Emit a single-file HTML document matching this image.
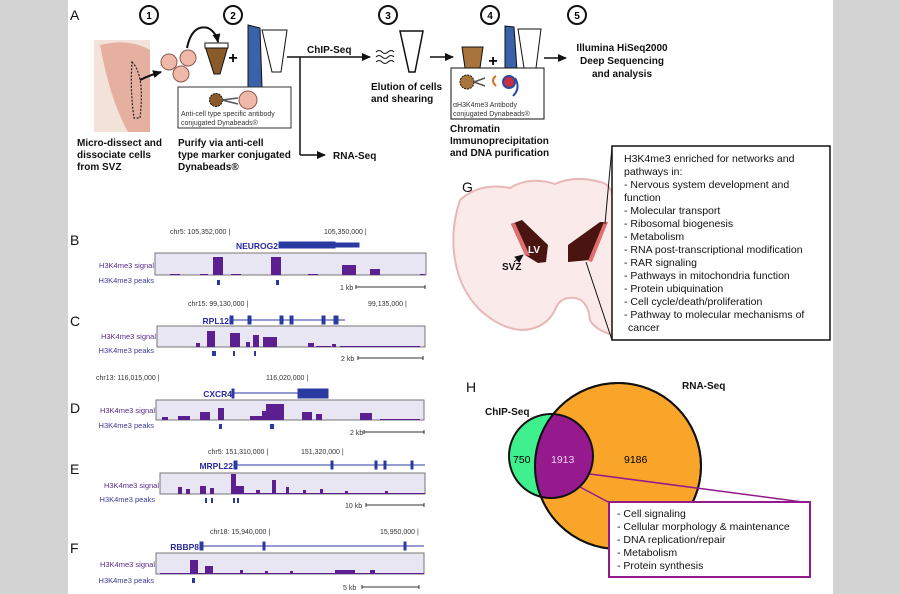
<!DOCTYPE html>
<html><head><meta charset="utf-8"><style>
html,body{margin:0;padding:0;background:#d3d3d3;}
svg{display:block;font-family:"Liberation Sans",sans-serif;}
.b{font-weight:bold;font-size:10px;fill:#111}
.s{font-size:7px;fill:#333}
.sig{font-size:7.5px;fill:#5a2a8a}
.pk{font-size:7.5px;fill:#3a3a9a}
.g{font-size:8.5px;font-weight:bold;fill:#2a2aa0}
.lab{font-size:14px;fill:#111}
.t{font-size:10.5px;fill:#111}
</style></head><body>
<svg width="900" height="594" viewBox="0 0 900 594" xmlns="http://www.w3.org/2000/svg">
<rect x="0" y="0" width="900" height="594" fill="#d3d3d3"/>
<rect x="68" y="0" width="765" height="594" fill="#fff"/>
<defs><marker id="ar" markerUnits="userSpaceOnUse" markerWidth="9" markerHeight="8" refX="8" refY="4" orient="auto"><path d="M0,0 L9,4 L0,8 z" fill="#111"/></marker></defs>

<!-- Panel A -->
<text x="70" y="20" class="lab">A</text>
<g font-weight="bold" font-size="10" text-anchor="middle">
<circle cx="149" cy="15" r="9" fill="none" stroke="#111" stroke-width="2"/><text x="149" y="19">1</text>
<circle cx="233" cy="15" r="9" fill="none" stroke="#111" stroke-width="2"/><text x="233" y="19">2</text>
<circle cx="388" cy="15" r="9" fill="none" stroke="#111" stroke-width="2"/><text x="388" y="19">3</text>
<circle cx="490" cy="15" r="9" fill="none" stroke="#111" stroke-width="2"/><text x="490" y="19">4</text>
<circle cx="577" cy="15" r="9" fill="none" stroke="#111" stroke-width="2"/><text x="577" y="19">5</text>
</g>
<!-- tissue -->
<rect x="94" y="40" width="56" height="92" fill="#f3e2da"/>
<path d="M100,45 Q130,38 150,50 L150,132 L128,132 Q110,100 100,45 z" fill="#e6b0a0"/>
<path d="M132,62 Q145,75 140,118 L134,118 Q130,90 132,62 z" fill="none" stroke="#222" stroke-dasharray="2,1.5" stroke-width="1.2"/>
<path d="M140,80 Q150,75 161,72" fill="none" stroke="#111" stroke-width="2" marker-end="url(#ar)"/>
<circle cx="169" cy="62" r="8" fill="#f0b8a8" stroke="#8a5a50"/>
<circle cx="188" cy="58" r="8" fill="#f0b8a8" stroke="#8a5a50"/>
<circle cx="181" cy="74" r="8" fill="#f0b8a8" stroke="#8a5a50"/>
<path d="M187,48 Q192,24 208,28 Q216,32 218,42" fill="none" stroke="#111" stroke-width="2" marker-end="url(#ar)"/>
<path d="M205,46 L228,46 L220,74 L214,74 z" fill="#8b5a2b" stroke="#111"/>
<rect x="205" y="43" width="23" height="5" fill="#fff" stroke="#111"/>
<text x="233" y="63" font-size="16" font-weight="bold" text-anchor="middle">+</text>
<path d="M248,25 L260,28 L262,87 L248,87 z" fill="#3a62a8" stroke="#111"/>
<path d="M262,30 L287,30 L281,72 L272,72 z" fill="#fff" stroke="#111"/>
<rect x="178" y="87" width="113" height="41" fill="#fff" stroke="#333"/>
<circle cx="216" cy="100" r="6.5" fill="#8b5a2b" stroke="#111" stroke-dasharray="2,1"/>
<path d="M222,100 L238,98 M222,100 L238,104" stroke="#555" stroke-width="1.5"/>
<circle cx="248" cy="100" r="9" fill="#f0b8a8" stroke="#8a5a50"/>
<text x="181" y="116" class="s">Anti-cell type specific antibody</text>
<text x="181" y="125" class="s">conjugated Dynabeads®</text>
<text x="77" y="146" class="b">Micro-dissect and</text>
<text x="77" y="158" class="b">dissociate cells</text>
<text x="77" y="170" class="b">from SVZ</text>
<text x="178" y="146" class="b">Purify via anti-cell</text>
<text x="178" y="158" class="b">type marker conjugated</text>
<text x="178" y="170" class="b">Dynabeads®</text>
<line x1="287" y1="57" x2="370" y2="57" stroke="#111" stroke-width="1.5" marker-end="url(#ar)"/>
<text x="307" y="53" class="b" font-size="9.5">ChIP-Seq</text>
<line x1="300" y1="57" x2="300" y2="155" stroke="#111" stroke-width="1.5"/>
<line x1="300" y1="155" x2="325" y2="155" stroke="#111" stroke-width="1.5" marker-end="url(#ar)"/>
<text x="333" y="159" class="b" font-size="9.5">RNA-Seq</text>
<path d="M376,52 q3,-3 6,0 t6,0 t6,0 M376,57 q3,-3 6,0 t6,0 t6,0 M376,62 q3,-3 6,0 t6,0 t6,0" fill="none" stroke="#111"/>
<path d="M400,31 L423,31 L415,72 L409,72 z" fill="#fff" stroke="#111" stroke-width="1.5"/>
<text x="371" y="90" class="b">Elution of cells</text>
<text x="371" y="102" class="b">and shearing</text>
<line x1="430" y1="57" x2="453" y2="57" stroke="#111" stroke-width="1.5" marker-end="url(#ar)"/>
<path d="M462,47 L483,47 L480,68 L465,68 z" fill="#a8743c" stroke="#111"/>
<text x="493" y="66" font-size="16" font-weight="bold" text-anchor="middle">+</text>
<path d="M505,26 L514,27 L517,70 L505,70 z" fill="#3a62a8" stroke="#111"/>
<path d="M518,29 L541,29 L536,68 L524,68 z" fill="#fff" stroke="#111"/>
<rect x="451" y="68" width="93" height="51" fill="#fff" stroke="#111"/>
<circle cx="467" cy="82" r="7" fill="#a8743c" stroke="#111" stroke-dasharray="2,1"/>
<path d="M474,82 L485,78 M474,82 L485,86" stroke="#555" stroke-width="1.5"/>
<path d="M496,76 q-6,4 0,10" fill="none" stroke="#d07020" stroke-width="2"/>
<circle cx="509" cy="82" r="6" fill="#c83040" stroke="#2a4aa0" stroke-width="2"/>
<path d="M515,78 q6,10 -2,18" fill="none" stroke="#2a4aa0" stroke-width="2"/>
<text x="453" y="107" class="s">αH3K4me3 Antibody</text>
<text x="453" y="116" class="s">conjugated Dynabeads®</text>
<text x="450" y="132" class="b">Chromatin</text>
<text x="450" y="144" class="b">Immunoprecipitation</text>
<text x="450" y="156" class="b">and DNA purification</text>
<line x1="544" y1="58" x2="566" y2="58" stroke="#111" stroke-width="1.5" marker-end="url(#ar)"/>
<g class="b" text-anchor="middle"><text x="622" y="51">Illumina HiSeq2000</text><text x="622" y="64">Deep Sequencing</text><text x="622" y="77">and analysis</text></g>

<!-- Panel G -->
<text x="462" y="192" class="lab">G</text>
<path d="M460,200 Q480,182 510,188 Q530,176 555,184 Q575,175 600,182 Q612,184 613,200 L613,335 Q595,330 590,320 Q588,300 575,298 Q560,296 555,310 Q545,330 520,330 Q500,328 480,310 Q460,290 455,260 Q450,230 460,200 z" fill="#fbeaea" stroke="#e8b8b8" stroke-width="2"/>
<path d="M511,224 L522,220 L548,245 L546,262 L538,263 L525,255 z" fill="#4a1410"/>
<path d="M511,224 L515,223 L530,256 L525,255 z" fill="#e07070"/>
<path d="M568,245 L600,222 L608,222 L590,260 L568,262 z" fill="#4a1410"/>
<path d="M604,222 L608,222 L592,262 L588,261 z" fill="#e07070"/>
<text x="534" y="253" font-size="10" font-weight="bold" fill="#fff" text-anchor="middle">LV</text>
<text x="502" y="270" class="b">SVZ</text>
<line x1="514" y1="262" x2="523" y2="255" stroke="#111" marker-end="url(#ar)"/>
<line x1="605" y1="224" x2="612" y2="147" stroke="#111"/>
<line x1="586" y1="262" x2="612" y2="340" stroke="#111"/>
<rect x="612" y="146" width="218" height="194" fill="#fff" stroke="#111" stroke-width="1.5"/>
<g class="t">
<text x="624" y="162">H3K4me3 enriched for networks and</text>
<text x="624" y="175">pathways in:</text>
<text x="624" y="188">- Nervous system development and</text>
<text x="624" y="201">function</text>
<text x="624" y="214">- Molecular transport</text>
<text x="624" y="227">- Ribosomal biogenesis</text>
<text x="624" y="240">- Metabolism</text>
<text x="624" y="253">- RNA post-transcriptional modification</text>
<text x="624" y="266">- RAR signaling</text>
<text x="624" y="279">- Pathways in mitochondria function</text>
<text x="624" y="292">- Protein ubiquination</text>
<text x="624" y="305">- Cell cycle/death/proliferation</text>
<text x="624" y="318">- Pathway to molecular mechanisms of</text>
<text x="628" y="331">cancer</text>
</g>

<!-- Tracks -->
<g fill="#e9e6f3" stroke="#777">
<rect x="155" y="253" width="271" height="22"/>
<rect x="157" y="326" width="268" height="21"/>
<rect x="156" y="400" width="268" height="20"/>
<rect x="160" y="473" width="265" height="21"/>
<rect x="156" y="553" width="268" height="21"/>
</g>
<g fill="#5b1f8f">
<path d="M170,275 v-1 h10 v1 M200,275 v-1 h8 v1 M213,275 v-18 h10 v18 M231,275 v-1 h10 v1 M271,275 v-18 h10 v18 M308,275 v-1 h10 v1 M342,275 v-10 h14 v10 M370,275 v-6 h10 v6 M420,275 v-1 h5 v1z"/>
<path d="M196,347 v-4 h4 v4z M207,347 v-16 h8 v16z M230,347 v-14 h10 v14z M246,347 v-5 h4 v5z M253,347 v-12 h6 v12z M263,347 v-10 h14 v10z M308,347 v-4 h6 v4z M316,347 v-1 h15 v1z M332,347 v-3 h4 v3z M340,347 v-1 h80 v1z"/>
<path d="M162,420 v-3 h6 v3z M178,420 v-4 h12 v4z M200,420 v-8 h10 v8z M218,420 v-12 h6 v12z M250,420 v-4 h12 v4z M262,420 v-9 h8 v9z M266,420 v-16 h18 v16z M302,420 v-8 h10 v8z M316,420 v-6 h6 v6z M360,420 v-7 h12 v7z M380,420 v-1 h40 v1z"/>
<path d="M178,494 v-7 h4 v7z M186,494 v-5 h4 v5z M200,494 v-8 h6 v8z M210,494 v-6 h4 v6z M231,494 v-20 h5 v20z M236,494 v-8 h8 v8z M256,494 v-4 h4 v4z M272,494 v-14 h4 v14z M286,494 v-7 h3 v7z M303,494 v-4 h3 v4z M320,494 v-5 h3 v5z M345,494 v-3 h3 v3z M385,494 v-3 h3 v3z M240,494 v-1 h185 v1z"/>
<path d="M190,574 v-14 h8 v14z M205,574 v-8 h8 v8z M240,574 v-4 h3 v4z M265,574 v-3 h3 v3z M290,574 v-3 h3 v3z M335,574 v-4 h20 v4z M370,574 v-4 h5 v4z M160,574 v-1 h264 v1z"/>
</g>
<g fill="#2a3aa0">
<rect x="217" y="280" width="3" height="5"/><rect x="276" y="280" width="3" height="5"/>
<rect x="212" y="351" width="4" height="5"/><rect x="233" y="351" width="2" height="5"/><rect x="254" y="351" width="2" height="5"/>
<rect x="219" y="424" width="3" height="5"/><rect x="270" y="424" width="4" height="5"/>
<rect x="205" y="498" width="2" height="5"/><rect x="211" y="498" width="2" height="5"/><rect x="233" y="498" width="2" height="5"/><rect x="237" y="498" width="2" height="5"/>
<rect x="192" y="578" width="3" height="5"/>
</g>
<!-- gene models -->
<g stroke="#2a3aa0" fill="#2a3aa0">
<rect x="279" y="242" width="56" height="6"/><rect x="335" y="243" width="24" height="4"/>
<line x1="232" y1="320" x2="345" y2="320"/><rect x="230" y="316" width="3" height="8"/><rect x="248" y="316" width="3" height="8"/><rect x="280" y="316" width="3" height="8"/><rect x="290" y="316" width="3" height="8"/><rect x="322" y="316" width="3" height="8"/><rect x="334" y="316" width="4" height="8"/>
<line x1="233" y1="393" x2="298" y2="393"/><rect x="298" y="389" width="30" height="9"/><rect x="232" y="389" width="2" height="9"/>
<line x1="236" y1="465" x2="425" y2="465"/><rect x="234" y="461" width="3" height="8"/><rect x="331" y="461" width="2" height="8"/><rect x="375" y="461" width="2" height="8"/><rect x="384" y="461" width="2" height="8"/><rect x="411" y="461" width="2" height="8"/>
<line x1="201" y1="546" x2="424" y2="546"/><rect x="200" y="542" width="3" height="8"/><rect x="263" y="542" width="2" height="8"/><rect x="404" y="542" width="2" height="8"/>
</g>
<g class="g" text-anchor="end">
<text x="278" y="249">NEUROG2</text><text x="229" y="324">RPL12</text><text x="232" y="397">CXCR4</text><text x="233" y="469">MRPL22</text><text x="199" y="550">RBBP8</text>
</g>
<g class="s" font-size="6.5">
<text x="170" y="234">chr5: 105,352,000 |</text><text x="324" y="234">105,350,000 |</text>
<text x="188" y="306">chr15: 99,130,000 |</text><text x="368" y="306">99,135,000 |</text>
<text x="96" y="380">chr13: 116,015,000 |</text><text x="266" y="380">116,020,000 |</text>
<text x="208" y="454">chr5: 151,310,000 |</text><text x="301" y="454">151,320,000 |</text>
<text x="210" y="534">chr18: 15,940,000 |</text><text x="380" y="534">15,950,000 |</text>
<text x="340" y="290">1 kb</text><text x="341" y="361">2 kb</text><text x="350" y="435">2 kb</text><text x="345" y="508">10 kb</text><text x="343" y="590">5 kb</text>
</g>
<g stroke="#333" fill="none">
<path d="M356,285 v4 M356,287 H425 M425,285 v4"/>
<path d="M358,356 v4 M358,358 H423 M423,356 v4"/>
<path d="M364,430 v4 M364,432 H424 M424,430 v4"/>
<path d="M366,503 v4 M366,505 H424 M424,503 v4"/>
<path d="M362,585 v4 M362,587 H419 M419,585 v4"/>
</g>
<g text-anchor="end">
<text x="154" y="268" class="sig">H3K4me3 signal</text><text x="154" y="283" class="pk">H3K4me3 peaks</text>
<text x="156" y="339" class="sig">H3K4me3 signal</text><text x="154" y="353" class="pk">H3K4me3 peaks</text>
<text x="155" y="413" class="sig">H3K4me3 signal</text><text x="154" y="428" class="pk">H3K4me3 peaks</text>
<text x="159" y="488" class="sig">H3K4me3 signal</text><text x="155" y="502" class="pk">H3K4me3 peaks</text>
<text x="155" y="567" class="sig">H3K4me3 signal</text><text x="154" y="583" class="pk">H3K4me3 peaks</text>
</g>
<g class="lab"><text x="70" y="245">B</text><text x="70" y="326">C</text><text x="70" y="413">D</text><text x="70" y="474">E</text><text x="70" y="553">F</text></g>

<!-- Panel H -->
<text x="466" y="392" class="lab">H</text>
<defs><clipPath id="oc"><circle cx="618" cy="466" r="83"/></clipPath></defs>
<circle cx="551" cy="456" r="42" fill="#3ef08e"/>
<circle cx="618" cy="466" r="83" fill="#f8a52a" stroke="#111" stroke-width="2"/>
<circle cx="551" cy="456" r="42" fill="#951a8e" clip-path="url(#oc)"/>
<circle cx="551" cy="456" r="42" fill="none" stroke="#111" stroke-width="2"/>
<circle cx="618" cy="466" r="83" fill="none" stroke="#111" stroke-width="2"/>
<text x="485" y="415" class="b">ChIP-Seq</text>
<text x="682" y="389" class="b">RNA-Seq</text>
<text x="513" y="463" font-size="10.5">750</text>
<text x="551" y="463" font-size="10.5" fill="#f0d0f0">1913</text>
<text x="624" y="463" font-size="10.5">9186</text>
<line x1="590" y1="474" x2="810" y2="503" stroke="#951a8e" stroke-width="1.5"/>
<line x1="580" y1="487" x2="610" y2="503" stroke="#951a8e" stroke-width="1.5"/>
<rect x="609" y="502" width="201" height="75" fill="#fff" stroke="#951a8e" stroke-width="2"/>
<g class="t"><text x="617" y="517">- Cell signaling</text><text x="617" y="530">- Cellular morphology &amp; maintenance</text><text x="617" y="543">- DNA replication/repair</text><text x="617" y="556">- Metabolism</text><text x="617" y="569">- Protein synthesis</text></g>
</svg>
</body></html>
